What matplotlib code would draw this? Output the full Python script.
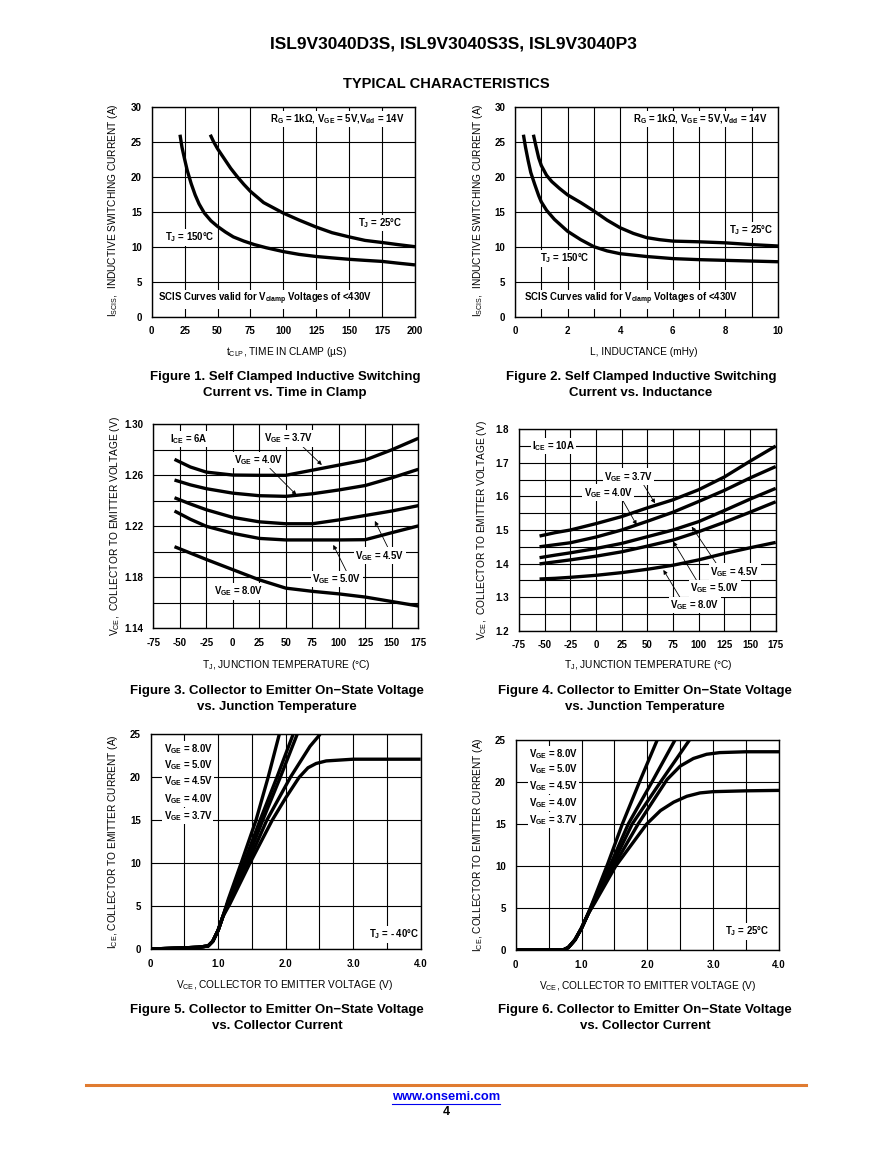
import numpy as np
import matplotlib
matplotlib.use('Agg')
import matplotlib.pyplot as plt
from matplotlib.ticker import MultipleLocator, FixedLocator, FormatStrFormatter

plt.rcParams['font.family'] = ['Liberation Sans', 'DejaVu Sans']
plt.rcParams['mathtext.default'] = 'regular'
plt.rcParams['axes.unicode_minus'] = False

# ---- Figure 1: I_SCIS vs time in clamp ----
t_clp_25 = [44.5, 47, 50, 55, 60, 65, 70, 75, 85, 100, 112, 125, 137, 150, 162, 175, 187, 200]
i_scis_t_25 = [26.0, 25.0, 24.0, 22.6, 21.2, 20.0, 18.9, 17.9, 16.3, 14.8, 13.8, 12.8, 12.0, 11.4, 10.9, 10.6, 10.3, 10.0]
t_clp_150 = [21.5, 23, 25, 27, 30, 33, 36, 40, 45, 50, 56, 62, 70, 78, 87, 100, 112, 125, 137, 150, 162, 175, 187, 200]
i_scis_t_150 = [26.0, 24.2, 22.5, 20.9, 19.0, 17.4, 16.1, 14.8, 13.7, 12.9, 12.1, 11.4, 10.8, 10.3, 9.85, 9.3, 8.9, 8.6, 8.4, 8.2, 8.05, 7.9, 7.65, 7.4]

# ---- Figure 2: I_SCIS vs inductance ----
ind_25 = [0.7, 0.8, 0.9, 1.0, 1.2, 1.4, 1.7, 2.0, 2.5, 3.0, 3.5, 4.0, 4.5, 5.0, 5.5, 6.0, 7.0, 8.0, 9.0, 10.0]
i_scis_l_25 = [26.0, 24.3, 22.7, 21.6, 20.2, 19.3, 18.3, 17.4, 16.3, 15.1, 13.8, 12.7, 11.9, 11.3, 11.0, 10.8, 10.7, 10.55, 10.3, 10.1]
ind_150 = [0.32, 0.4, 0.5, 0.6, 0.75, 0.9, 1.0, 1.2, 1.5, 2.0, 2.5, 3.0, 3.5, 4.0, 5.0, 6.0, 7.0, 8.0, 9.0, 10.0]
i_scis_l_150 = [26.0, 24.2, 22.3, 20.6, 18.9, 17.3, 16.4, 15.2, 13.9, 12.2, 11.0, 10.0, 9.4, 9.0, 8.6, 8.3, 8.15, 8.05, 7.95, 7.85]

# ---- Figure 3 / 4: V_CE vs junction temperature ----
tj = [-55, -40, -25, 0, 25, 50, 75, 100, 125, 150, 175]
vce6_37 = [1.2725, 1.2665, 1.2625, 1.2602, 1.2600, 1.2600, 1.2640, 1.2680, 1.2720, 1.2800, 1.2890]
vce6_40 = [1.2563, 1.2525, 1.2495, 1.2460, 1.2440, 1.2435, 1.2455, 1.2485, 1.2520, 1.2580, 1.2647]
vce6_45 = [1.2424, 1.2375, 1.2330, 1.2270, 1.2235, 1.2220, 1.2220, 1.2250, 1.2285, 1.2320, 1.2362]
vce6_50 = [1.2320, 1.2255, 1.2200, 1.2145, 1.2105, 1.2093, 1.2093, 1.2093, 1.2095, 1.2150, 1.2203]
vce6_80 = [1.2040, 1.1990, 1.1940, 1.1860, 1.1780, 1.1715, 1.1690, 1.1670, 1.1645, 1.1610, 1.1575]

vce10_37 = [1.482, 1.492, 1.500, 1.519, 1.540, 1.566, 1.590, 1.620, 1.658, 1.705, 1.750]
vce10_40 = [1.450, 1.456, 1.462, 1.479, 1.500, 1.526, 1.553, 1.585, 1.618, 1.655, 1.689]
vce10_45 = [1.4175, 1.425, 1.432, 1.445, 1.460, 1.480, 1.500, 1.525, 1.558, 1.592, 1.624]
vce10_50 = [1.399, 1.405, 1.411, 1.422, 1.435, 1.452, 1.470, 1.495, 1.523, 1.553, 1.584]
vce10_80 = [1.354, 1.356, 1.359, 1.365, 1.373, 1.383, 1.395, 1.411, 1.430, 1.447, 1.463]

y3_labels = [1.14, 1.18, 1.22, 1.26, 1.30]

# ---- Figure 5: I_CE vs V_CE, TJ = -40C ----
low5_v = [0, 0.4, 0.7, 0.85, 0.92, 1.0, 1.07]
low5_i = [0, 0.1, 0.2, 0.35, 0.9, 2.2, 3.8]
f5_v80 = [1.15, 1.34, 1.56, 1.74, 1.905]
f5_i80 = [5.8, 10, 15, 20, 25]
f5_v50 = [1.15, 1.38, 1.62, 1.87, 2.11]
f5_i50 = [5.6, 10, 15, 20, 25]
f5_v45 = [1.15, 1.41, 1.66, 1.92, 2.17]
f5_i45 = [5.5, 10, 15, 20, 25]
f5_v40 = [1.16, 1.44, 1.72, 2.07, 2.36, 2.51]
f5_i40 = [5.3, 10, 15, 20, 23.6, 25]
f5_v37 = [1.17, 1.47, 1.80, 2.0, 2.2, 2.33, 2.45, 2.6, 3.0, 4.0]
f5_i37 = [5.2, 10, 15, 17.6, 20.0, 21.1, 21.6, 21.9, 22.1, 22.1]

# ---- Figure 6: I_CE vs V_CE, TJ = 25C ----
low6_v = [0, 0.5, 0.72, 0.8, 0.9, 1.0, 1.1]
low6_i = [0, 0, 0, 0.3, 1.2, 2.6, 4.3]
f6_v80 = [1.2, 1.4, 1.62, 1.88, 2.15]
f6_i80 = [6.3, 10.3, 15, 20, 25]
f6_v50 = [1.2, 1.43, 1.71, 2.07, 2.42]
f6_i50 = [6.1, 10, 15, 20, 25]
f6_v45 = [1.2, 1.46, 1.77, 2.2, 2.64]
f6_i45 = [6.0, 10, 15, 20, 25]
f6_v40 = [1.2, 1.49, 1.86, 2.1, 2.3, 2.5, 2.7, 2.9, 3.1, 3.5, 4.0]
f6_i40 = [5.8, 10, 15, 17.9, 20.3, 21.9, 22.8, 23.3, 23.5, 23.6, 23.6]
f6_v37 = [1.2, 1.52, 1.99, 2.2, 2.4, 2.6, 2.8, 3.0, 3.5, 4.0]
f6_i37 = [5.6, 10, 15, 16.6, 17.6, 18.3, 18.7, 18.85, 18.95, 19.0]

vge_labels = ['8.0', '5.0', '4.5', '4.0', '3.7']

W, H = 893, 1155
fig = plt.figure(figsize=(W / 100, H / 100), dpi=100)

TICK = 7
LAB = 7.3
NOTE = 6.9
CAP = 9.5


def box(left, top, right, bottom):
    return fig.add_axes([left / W, 1 - bottom / H, (right - left) / W, (bottom - top) / H])


def ftext(x, y, s, **kw):
    fig.text(x / W, 1 - y / H, s, ha='center', va='center', **kw)


def style(ax):
    for sp in ax.spines.values():
        sp.set_linewidth(1.0)
    ax.grid(True, which='both', color='black', lw=0.8)
    ax.set_axisbelow(True)
    ax.tick_params(which='both', length=0, labelsize=TICK, pad=7)
    for lb in ax.get_xticklabels() + ax.get_yticklabels():
        lb.set_fontweight('bold')


def curve(ax, x, y):
    ax.plot(x, y, color='black', lw=2.4, solid_joinstyle='round', solid_capstyle='butt')


def note(ax, x, y, s, ha='center'):
    ax.text(x, y, s, ha=ha, va='center', fontsize=NOTE, fontweight='bold',
            bbox=dict(facecolor='white', edgecolor='none', pad=1.0))


def arrow(ax, start, end):
    ax.annotate('', xy=end, xytext=start,
                arrowprops=dict(arrowstyle='-|>', lw=0.6, color='black', mutation_scale=6,
                                shrinkA=0, shrinkB=0))


# header
ftext(453, 44, 'ISL9V3040D3S, ISL9V3040S3S, ISL9V3040P3', fontsize=12.5, fontweight='bold')
ftext(446, 84, 'TYPICAL CHARACTERISTICS', fontsize=10.5, fontweight='bold')

# Figure 1
ax1 = box(151.7, 106.7, 415, 316.7)
curve(ax1, t_clp_25, i_scis_t_25)
curve(ax1, t_clp_150, i_scis_t_150)
ax1.set_xlim(0, 200)
ax1.set_ylim(0, 30)
ax1.xaxis.set_major_locator(MultipleLocator(25))
ax1.yaxis.set_major_locator(MultipleLocator(5))
style(ax1)
note(ax1, 141, 28.2, 'R$_G$ = 1k$\\Omega$, V$_{GE}$ = 5V,V$_{dd}$ = 14V')
note(ax1, 173.5, 13.4, 'T$_J$ = 25°C')
note(ax1, 29, 11.3, 'T$_J$ = 150°C')
note(ax1, 86, 2.5, 'SCIS Curves valid for V$_{clamp}$ Voltages of <430V')
ftext(287, 352, 't$_{CLP}$, TIME IN CLAMP (µS)', fontsize=LAB)
ftext(113, 210, 'I$_{SCIS}$,  INDUCTIVE SWITCHING CURRENT (A)', fontsize=LAB, rotation=90)
ftext(285, 377, 'Figure 1. Self Clamped Inductive Switching', fontsize=CAP, fontweight='bold')
ftext(285, 393, 'Current vs. Time in Clamp', fontsize=CAP, fontweight='bold')

# Figure 2
ax2 = box(515, 106.7, 778, 316.7)
curve(ax2, ind_25, i_scis_l_25)
curve(ax2, ind_150, i_scis_l_150)
ax2.set_xlim(0, 10)
ax2.set_ylim(0, 30)
ax2.xaxis.set_major_locator(MultipleLocator(2))
ax2.xaxis.set_minor_locator(MultipleLocator(1))
ax2.yaxis.set_major_locator(MultipleLocator(5))
style(ax2)
note(ax2, 7.05, 28.2, 'R$_G$ = 1k$\\Omega$, V$_{GE}$ = 5V,V$_{dd}$ = 14V')
note(ax2, 8.99, 12.4, 'T$_J$ = 25°C')
note(ax2, 1.9, 8.3, 'T$_J$ = 150°C')
note(ax2, 4.43, 2.5, 'SCIS Curves valid for V$_{clamp}$ Voltages of <430V')
ftext(644, 352, 'L, INDUCTANCE (mHy)', fontsize=LAB)
ftext(478, 210, 'I$_{SCIS}$,  INDUCTIVE SWITCHING CURRENT (A)', fontsize=LAB, rotation=90)
ftext(641, 377, 'Figure 2. Self Clamped Inductive Switching', fontsize=CAP, fontweight='bold')
ftext(641, 393, 'Current vs. Inductance', fontsize=CAP, fontweight='bold')

# Figure 3
ax3 = box(153.3, 424.3, 418.3, 628.3)
for v in [vce6_37, vce6_40, vce6_45, vce6_50, vce6_80]:
    curve(ax3, tj, v)
ax3.set_xlim(-75, 175)
ax3.set_ylim(1.14, 1.30)
ax3.xaxis.set_major_locator(MultipleLocator(25))
ax3.yaxis.set_major_locator(FixedLocator(y3_labels))
ax3.yaxis.set_minor_locator(FixedLocator([1.16, 1.20, 1.24, 1.28]))
ax3.yaxis.set_major_formatter(FormatStrFormatter('%.2f'))
style(ax3)
note(ax3, -42, 1.2885, 'I$_{CE}$ = 6A')
arrow(ax3, (65, 1.2833), (84, 1.2681))
note(ax3, 52.7, 1.2890, 'V$_{GE}$ = 3.7V')
arrow(ax3, (35, 1.2655), (60, 1.2446))
note(ax3, 24, 1.2720, 'V$_{GE}$ = 4.0V')
arrow(ax3, (146.7, 1.2027), (134, 1.2242))
note(ax3, 138.8, 1.1970, 'V$_{GE}$ = 4.5V')
arrow(ax3, (107.4, 1.1844), (94.8, 1.2054))
note(ax3, 98, 1.1787, 'V$_{GE}$ = 5.0V')
note(ax3, 5.2, 1.1688, 'V$_{GE}$ = 8.0V')
ftext(286, 665, 'T$_J$, JUNCTION TEMPERATURE (°C)', fontsize=LAB)
ftext(115, 526, 'V$_{CE}$,  COLLECTOR TO EMITTER VOLTAGE (V)', fontsize=LAB, rotation=90)
ftext(277, 691, 'Figure 3. Collector to Emitter On\u2212State Voltage', fontsize=CAP, fontweight='bold')
ftext(277, 707, 'vs. Junction Temperature', fontsize=CAP, fontweight='bold')

# Figure 4
ax4 = box(519, 429.3, 775.7, 630.7)
for v in [vce10_37, vce10_40, vce10_45, vce10_50, vce10_80]:
    curve(ax4, tj, v)
ax4.set_xlim(-75, 175)
ax4.set_ylim(1.2, 1.8)
ax4.xaxis.set_major_locator(MultipleLocator(25))
ax4.yaxis.set_major_locator(MultipleLocator(0.1))
ax4.yaxis.set_minor_locator(MultipleLocator(0.05))
ax4.yaxis.set_major_formatter(FormatStrFormatter('%.1f'))
style(ax4)
note(ax4, -41.6, 1.750, 'I$_{CE}$ = 10A')
arrow(ax4, (44.5, 1.644), (57.5, 1.5795))
note(ax4, 31.5, 1.659, 'V$_{GE}$ = 3.7V')
arrow(ax4, (25, 1.594), (39.6, 1.515))
note(ax4, 12, 1.611, 'V$_{GE}$ = 4.0V')
arrow(ax4, (119.2, 1.391), (93.2, 1.51))
note(ax4, 135.4, 1.376, 'V$_{GE}$ = 4.5V')
arrow(ax4, (99.7, 1.341), (75.3, 1.465))
note(ax4, 116, 1.326, 'V$_{GE}$ = 5.0V')
arrow(ax4, (83.4, 1.291), (65.6, 1.381))
note(ax4, 96.4, 1.2765, 'V$_{GE}$ = 8.0V')
ftext(648, 665, 'T$_J$, JUNCTION TEMPERATURE (°C)', fontsize=LAB)
ftext(482, 530, 'V$_{CE}$,  COLLECTOR TO EMITTER VOLTAGE (V)', fontsize=LAB, rotation=90)
ftext(645, 691, 'Figure 4. Collector to Emitter On\u2212State Voltage', fontsize=CAP, fontweight='bold')
ftext(645, 707, 'vs. Junction Temperature', fontsize=CAP, fontweight='bold')

# Figure 5
ax5 = box(150.7, 734.3, 420.7, 949)
for v, i in [(f5_v80, f5_i80), (f5_v50, f5_i50), (f5_v45, f5_i45), (f5_v40, f5_i40), (f5_v37, f5_i37)]:
    curve(ax5, low5_v + v, low5_i + i)
ax5.set_xlim(0, 4)
ax5.set_ylim(0, 25)
ax5.set_xticks([0, 1, 2, 3, 4], ['0', '1.0', '2.0', '3.0', '4.0'])
ax5.xaxis.set_minor_locator(MultipleLocator(0.5))
ax5.yaxis.set_major_locator(MultipleLocator(5))
style(ax5)
for lab, yy in zip(vge_labels, [23.3, 21.4, 19.5, 17.5, 15.5]):
    note(ax5, 0.19, yy, 'V$_{GE}$ = ' + lab + 'V', ha='left')
note(ax5, 3.6, 1.7, 'T$_J$ = - 40°C')
ftext(285, 985, 'V$_{CE}$, COLLECTOR TO EMITTER VOLTAGE (V)', fontsize=LAB)
ftext(113, 842, 'I$_{CE}$, COLLECTOR TO EMITTER CURRENT (A)', fontsize=LAB, rotation=90)
ftext(277, 1010, 'Figure 5. Collector to Emitter On\u2212State Voltage', fontsize=CAP, fontweight='bold')
ftext(277, 1026, 'vs. Collector Current', fontsize=CAP, fontweight='bold')

# Figure 6
ax6 = box(515.7, 740, 779, 950)
for v, i in [(f6_v80, f6_i80), (f6_v50, f6_i50), (f6_v45, f6_i45), (f6_v40, f6_i40), (f6_v37, f6_i37)]:
    curve(ax6, low6_v + v, low6_i + i)
ax6.set_xlim(0, 4)
ax6.set_ylim(0, 25)
ax6.set_xticks([0, 1, 2, 3, 4], ['0', '1.0', '2.0', '3.0', '4.0'])
ax6.xaxis.set_minor_locator(MultipleLocator(0.5))
ax6.yaxis.set_major_locator(MultipleLocator(5))
style(ax6)
for lab, yy in zip(vge_labels, [23.3, 21.5, 19.5, 17.5, 15.5]):
    note(ax6, 0.2, yy, 'V$_{GE}$ = ' + lab + 'V', ha='left')
note(ax6, 3.51, 2.2, 'T$_J$ = 25°C')
ftext(648, 986, 'V$_{CE}$, COLLECTOR TO EMITTER VOLTAGE (V)', fontsize=LAB)
ftext(478, 845, 'I$_{CE}$, COLLECTOR TO EMITTER CURRENT (A)', fontsize=LAB, rotation=90)
ftext(645, 1010, 'Figure 6. Collector to Emitter On\u2212State Voltage', fontsize=CAP, fontweight='bold')
ftext(645, 1026, 'vs. Collector Current', fontsize=CAP, fontweight='bold')

# footer
fig.add_artist(plt.Line2D([86 / W, 806 / W], [1 - 1085 / H, 1 - 1085 / H], color='#E07B30', lw=2.2))
ftext(446, 1097, 'www.onsemi.com', fontsize=9.3, fontweight='bold', color='#0000EE')
fig.add_artist(plt.Line2D([392 / W, 500 / W], [1 - 1103.5 / H, 1 - 1103.5 / H], color='#0000EE', lw=0.8))
ftext(446, 1112, '4', fontsize=9, fontweight='bold')

fig.savefig('out.png', dpi=100)
